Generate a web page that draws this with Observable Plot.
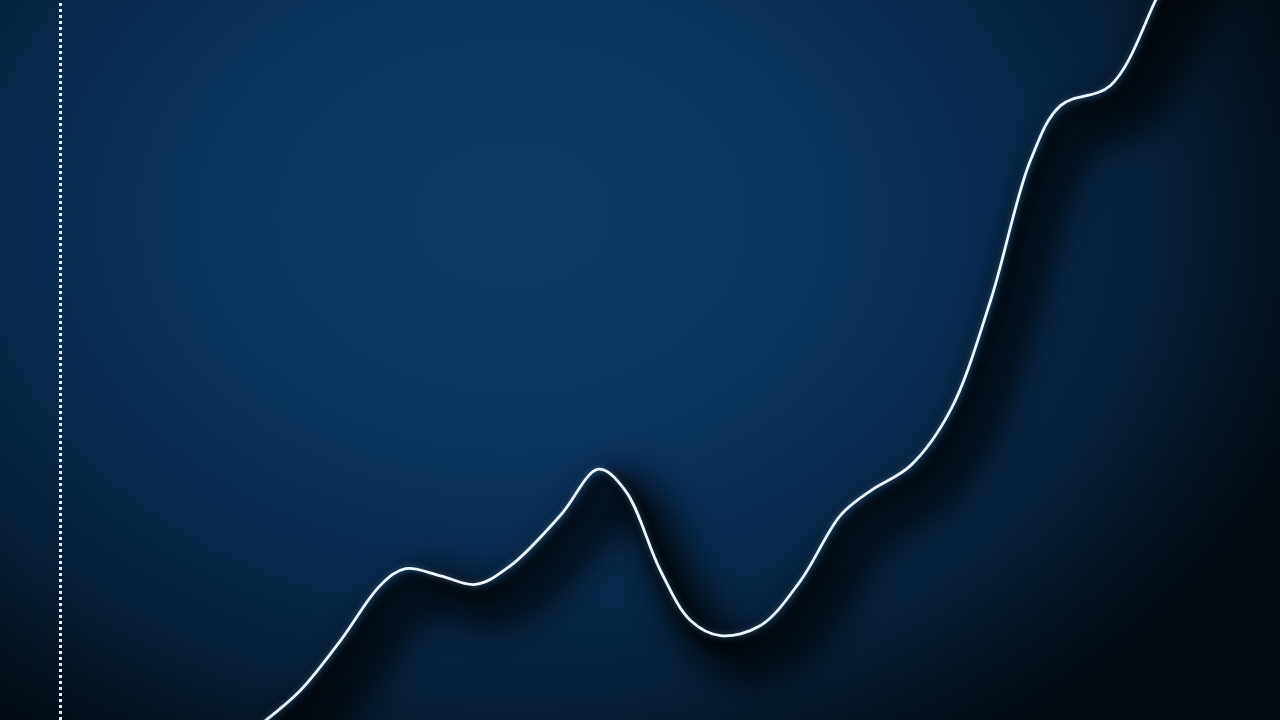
<!DOCTYPE html>
<html><head><meta charset="utf-8">
<script src="https://cdn.jsdelivr.net/npm/d3@7"></script>
<script src="https://cdn.jsdelivr.net/npm/@observablehq/plot@0.6"></script>
<style>
html,body{margin:0;padding:0;background:#04101d;overflow:hidden}
#chart{width:1280px;height:720px}
</style></head>
<body><div id="chart"></div>
<script>
// time (arbitrary units) and value (0-100)
const times = [26.5, 30, 34, 38, 40.5, 44, 47.5, 51, 56, 59.8, 62.5, 66, 69, 72, 76, 80, 84, 87, 91, 95, 99, 103, 106, 111, 115.5, 118];
const values = [0, 4.2, 11.1, 18.8, 21.1, 20.1, 18.9, 21.5, 28.5, 34.9, 31.9, 20.8, 13.9, 11.8, 13.2, 19.4, 28.5, 31.9, 35.4, 43.1, 58.3, 77.8, 85.4, 88.2, 100, 108];
const markerTime = [6];

const data = times.map((t, i) => ({t, v: values[i]}));

const chart = Plot.plot({
  width: 1280,
  height: 720,
  margin: 0,
  x: {domain: [0, 128], axis: null},
  y: {domain: [0, 100], axis: null},
  style: {background: "radial-gradient(ellipse 66% 88% at 40% 30%, #0c3b68 0%, #0a3562 35%, #082b4e 58%, #061f38 76%, #04121f 90%, #020a12 100%)"},
  marks: [
    Plot.line(data, {x: "t", y: "v", curve: "catmull-rom", stroke: "#000308", strokeWidth: 46, strokeOpacity: 0.75, dx: 22, dy: 24, clip: true}),
    Plot.line(data, {x: "t", y: "v", curve: "catmull-rom", stroke: "#000308", strokeWidth: 14, strokeOpacity: 0.6, dx: 8, dy: 10, clip: true}),
    Plot.line(data, {x: "t", y: "v", curve: "catmull-rom", stroke: "#7cc0ff", strokeWidth: 6, strokeOpacity: 0.18, clip: true}),
    Plot.line(data, {x: "t", y: "v", curve: "catmull-rom", stroke: "#eef8ff", strokeWidth: 2.8, clip: true}),
    Plot.ruleX(markerTime, {stroke: "#e6f2ff", strokeWidth: 3, strokeDasharray: "3,3", y1: 0, y2: 100})
  ]
});

const defs = d3.select(chart).insert("defs", ":first-child");
const mkBlur = (id, sd) => defs.append("filter").attr("id", id).attr("filterUnits", "userSpaceOnUse")
  .attr("x", -200).attr("y", -200).attr("width", 1680).attr("height", 1120)
  .append("feGaussianBlur").attr("stdDeviation", sd);
mkBlur("blurS", 18);
mkBlur("blurS2", 6);
mkBlur("blurG", 2.5);
const lineGroups = d3.select(chart).selectAll('g[aria-label="line"]').nodes();
if (lineGroups[0]) lineGroups[0].setAttribute("filter", "url(#blurS)");
if (lineGroups[1]) lineGroups[1].setAttribute("filter", "url(#blurS2)");
if (lineGroups[2]) lineGroups[2].setAttribute("filter", "url(#blurG)");

document.getElementById("chart").append(chart);
</script>
</body></html>
